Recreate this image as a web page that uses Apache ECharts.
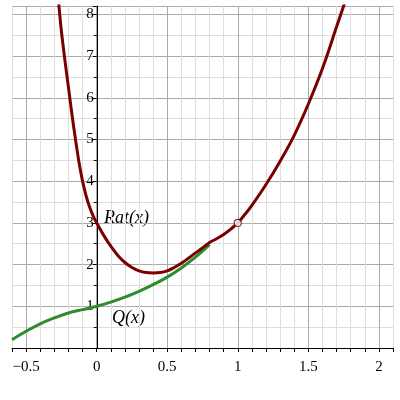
<html>
<head>
    <script src="https://cdn.jsdelivr.net/npm/echarts@6.0.0/dist/echarts.min.js"></script>
    <style>
        body { margin: 0 }
        #chart { width: 400px; height: 400px; }
    </style>
</head>
<body>
    <div id="chart"></div>
    <script>
        // values
        const ratX = [-0.27, -0.25, -0.225, -0.2, -0.175, -0.15, -0.125, -0.1, -0.075, -0.05, -0.025, 0, 0.05, 0.1, 0.15, 0.2, 0.25, 0.3, 0.35, 0.4, 0.45, 0.5, 0.55, 0.6, 0.65, 0.7, 0.75, 0.8, 0.85, 0.9, 0.95, 1.0, 1.05, 1.1, 1.2, 1.3, 1.4, 1.5, 1.6, 1.7, 1.76];
        const ratY = [8.3, 7.6, 6.9, 6.25, 5.6, 5.0, 4.45, 4.0, 3.65, 3.38, 3.17, 3.0, 2.7, 2.44, 2.22, 2.05, 1.93, 1.85, 1.81, 1.8, 1.81, 1.85, 1.93, 2.03, 2.15, 2.28, 2.4, 2.53, 2.62, 2.72, 2.85, 3.0, 3.2, 3.42, 3.92, 4.48, 5.1, 5.85, 6.7, 7.7, 8.3];
        const qX = [-0.6, -0.5, -0.4, -0.3, -0.2, -0.1, 0, 0.1, 0.2, 0.3, 0.4, 0.5, 0.6, 0.7, 0.8];
        const qY = [0.2, 0.4, 0.58, 0.72, 0.84, 0.92, 1.0, 1.1, 1.22, 1.36, 1.52, 1.7, 1.92, 2.18, 2.48];
        const hole = [1, 3];

        const serif = 'Liberation Serif';
        const major = '#aaaaaa', minor = '#dedede';

        const chart = echarts.init(document.getElementById('chart'));
        chart.setOption({
            animation: false,
            grid: { left: 12, right: 7, top: 6, bottom: 52 },
            xAxis: {
                type: 'value', min: -0.6, max: 2.1, interval: 0.1,
                axisLine: { onZero: true, lineStyle: { color: '#000' } },
                axisTick: { length: 4, lineStyle: { color: '#000' } },
                axisLabel: {
                    fontFamily: serif, fontSize: 15, color: '#000',
                    formatter: v => {
                        const r = Math.round(v * 10);
                        if (r % 5 !== 0 || r > 20) return '';
                        return r === 0 ? '0' : String(r / 10).replace('-', '\u2212');
                    }
                },
                splitLine: { lineStyle: { color: [minor, major, minor, minor, minor], width: 1 } }
            },
            yAxis: {
                type: 'value', min: 0, max: 8.2, interval: 1, offset: -84.8,
                axisLine: { onZero: false, lineStyle: { color: '#000' } },
                axisTick: { length: 4, lineStyle: { color: '#000' } },
                minorTick: { show: true, splitNumber: 2, length: 3, lineStyle: { color: '#000' } },
                axisLabel: {
                    fontFamily: serif, fontSize: 15, color: '#000', margin: 3,
                    formatter: v => v === 0 ? '' : String(v)
                },
                splitLine: { lineStyle: { color: major } },
                minorSplitLine: { show: true, lineStyle: { color: minor } }
            },
            series: [
                {
                    type: 'line', data: qX.map((x, i) => [x, qY[i]]), smooth: 0.4,
                    symbol: 'none', lineStyle: { color: '#2e8b2e', width: 3 }
                },
                {
                    type: 'line', data: ratX.map((x, i) => [x, ratY[i]]), smooth: 0.4,
                    symbol: 'none', lineStyle: { color: '#7a0000', width: 3 }
                },
                {
                    type: 'scatter', data: [hole], symbolSize: 7, z: 5,
                    itemStyle: { color: '#fff', borderColor: '#7a0000', borderWidth: 1.2 }
                }
            ],
            graphic: [
                { type: 'text', left: 104, top: 204, style: { text: 'Rat(x)', font: 'italic 18px "Liberation Serif"', fill: '#000' } },
                { type: 'text', left: 112, top: 304, style: { text: 'Q(x)', font: 'italic 18px "Liberation Serif"', fill: '#000' } }
            ]
        });
    </script>
</body>
</html>
